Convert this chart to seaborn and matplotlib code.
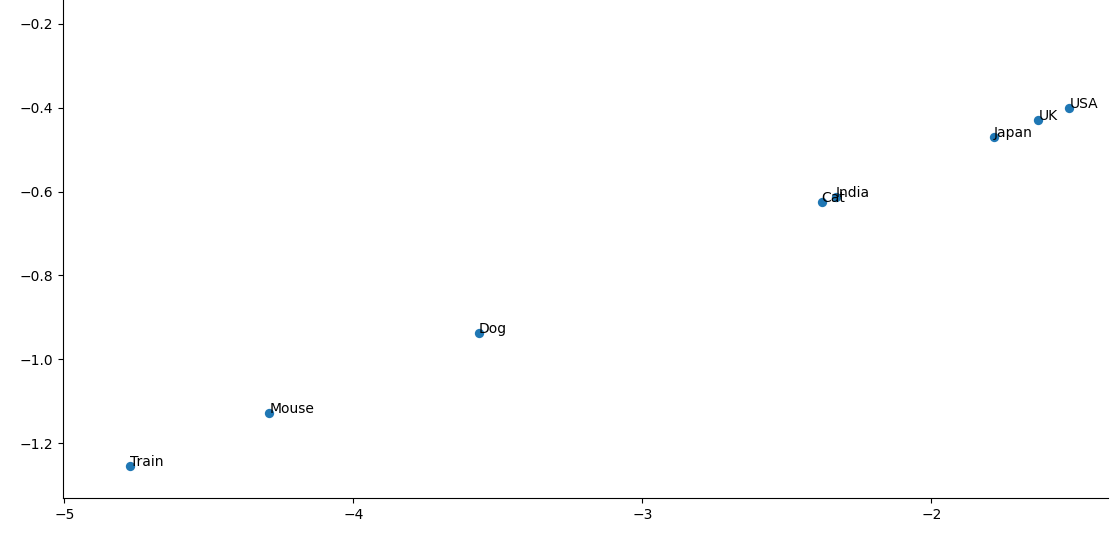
import pandas as pd
import matplotlib
matplotlib.use("Agg")
import matplotlib.pyplot as plt
import seaborn as sns

# coordenadas 2D de las palabras
words = ["Train", "Mouse", "Dog", "Cat", "India", "Japan", "UK", "USA"]
x_vals = [-4.772, -4.291, -3.566, -2.380, -2.332, -1.785, -1.630, -1.523]
y_vals = [-1.255, -1.129, -0.938, -0.626, -0.614, -0.469, -0.429, -0.400]

df = pd.DataFrame({"word": words, "x": x_vals, "y": y_vals})

fig = plt.figure(figsize=(11.1, 5.34), dpi=100)
ax = fig.add_axes([0.0568, 0.0674, 0.9412, 0.9326])

sns.scatterplot(data=df, x="x", y="y", ax=ax, color="#1f77b4", s=45, linewidth=0)
for _, row in df.iterrows():
    ax.text(row["x"], row["y"], row["word"], fontsize=10)

ax.set_xlim(-5.005, -1.39)
ax.set_ylim(-1.331, -0.143)
ax.set_xticks([-5, -4, -3, -2])
ax.set_yticks([-1.2, -1.0, -0.8, -0.6, -0.4, -0.2])
ax.set_xlabel("")
ax.set_ylabel("")
sns.despine(ax=ax)

fig.savefig("out.png", dpi=100)
